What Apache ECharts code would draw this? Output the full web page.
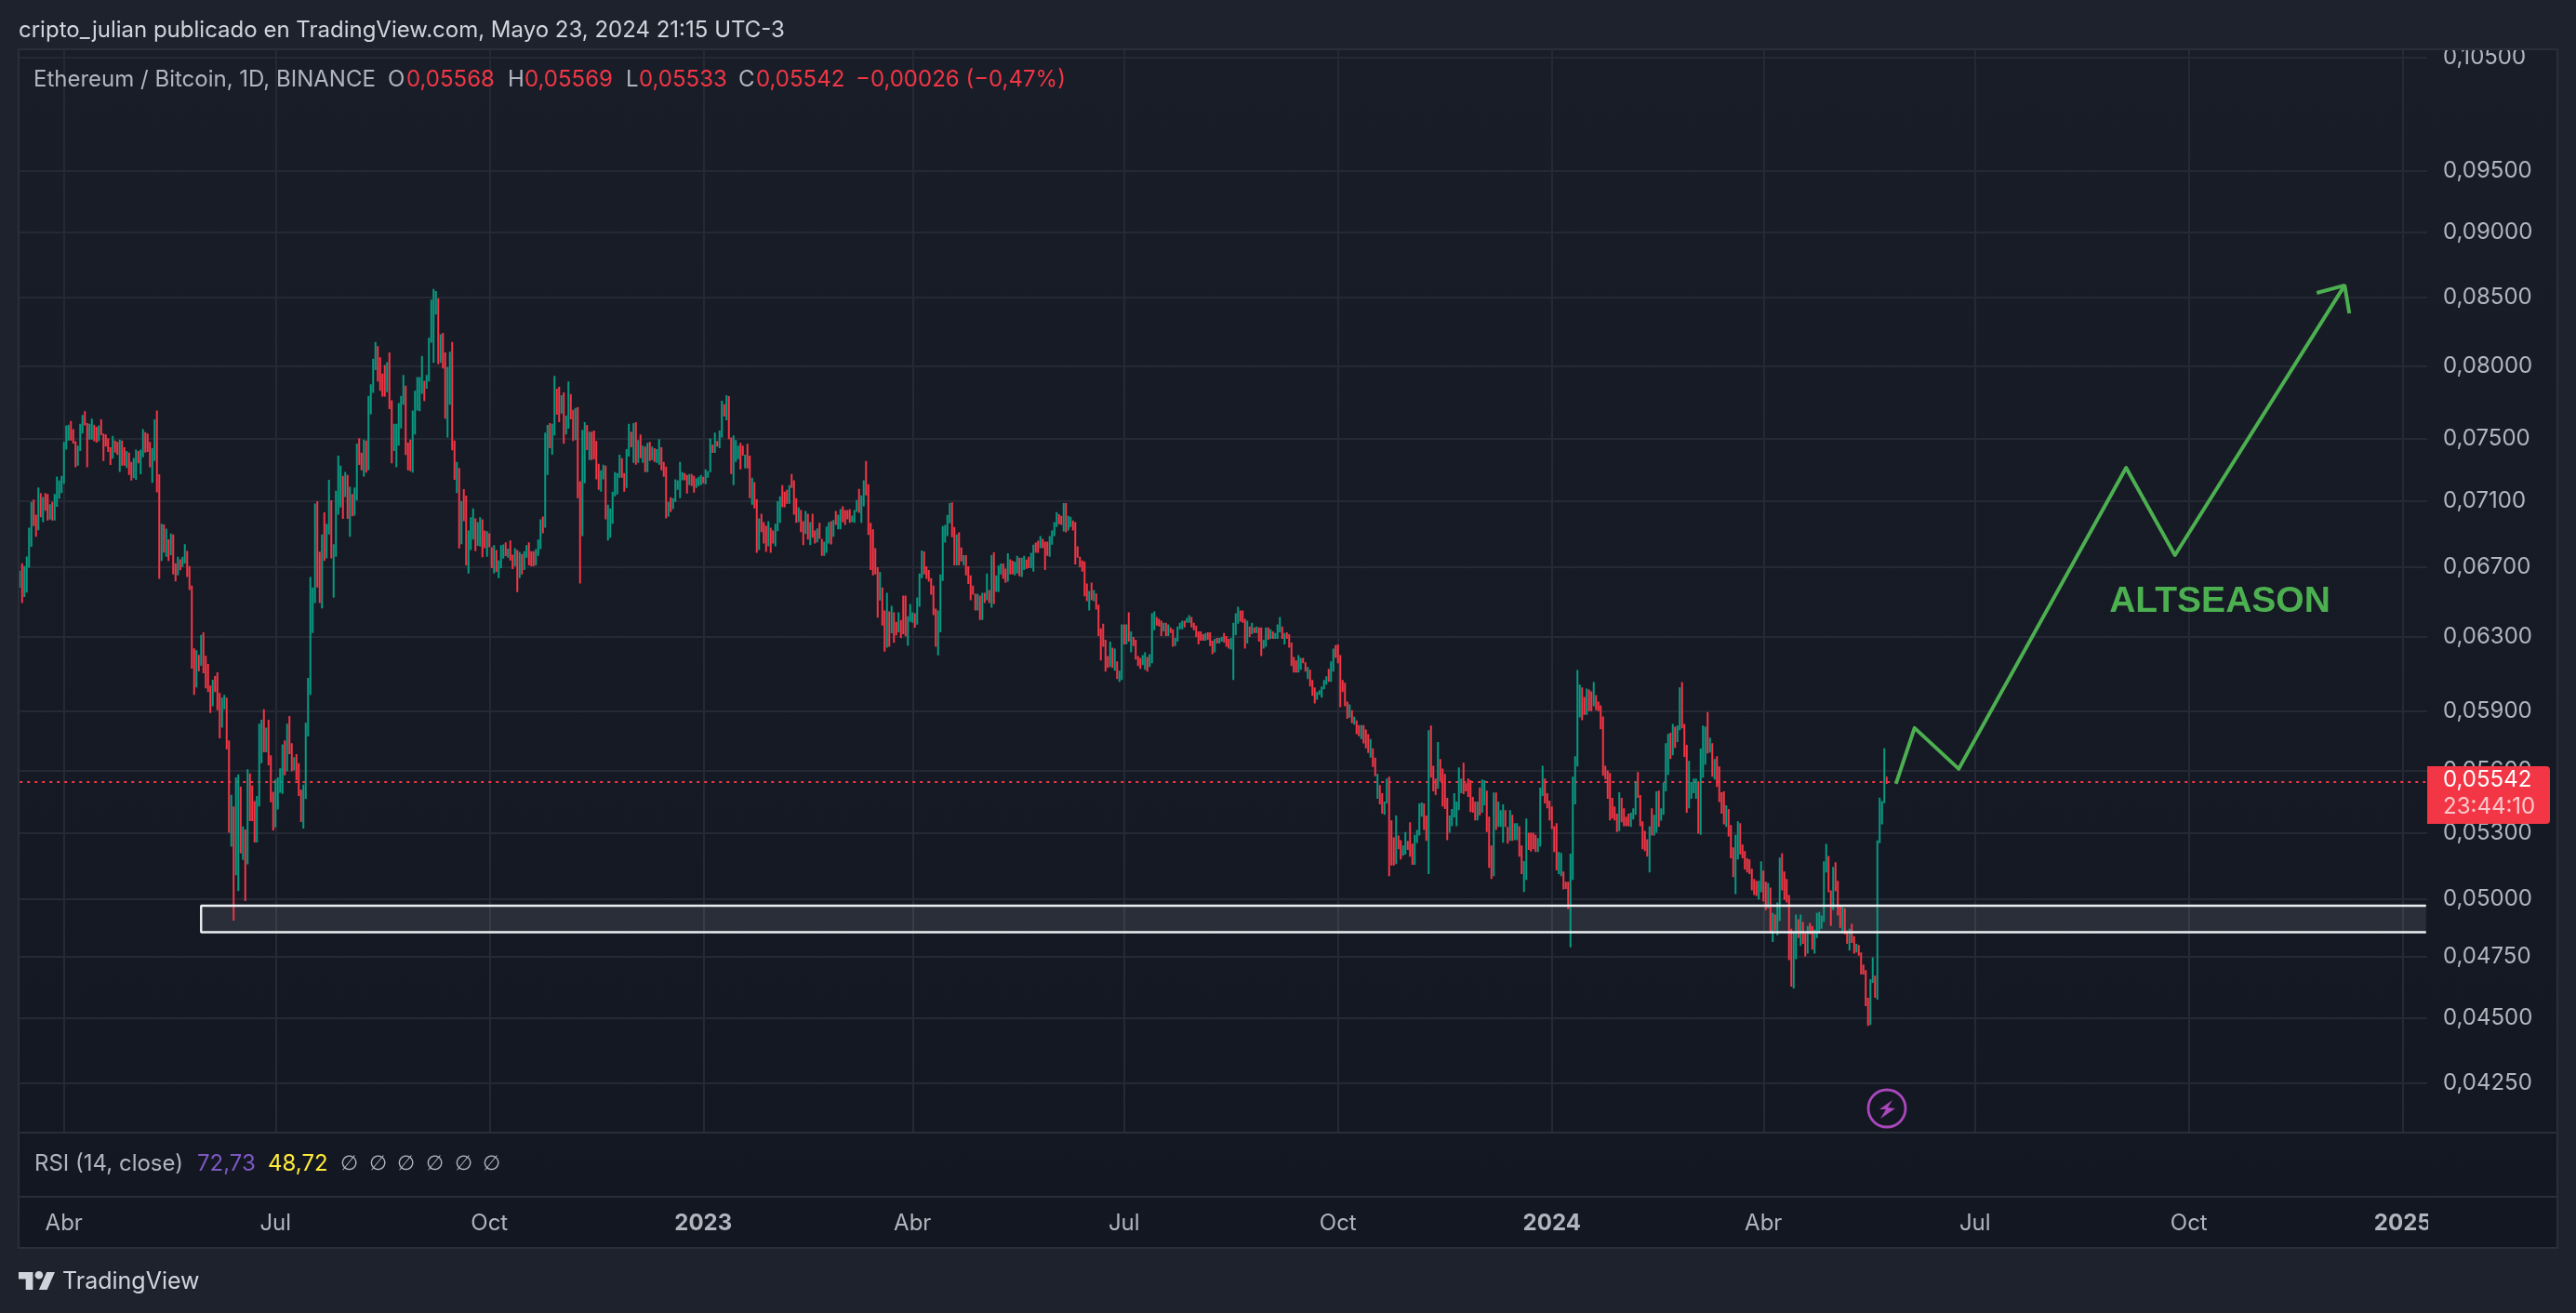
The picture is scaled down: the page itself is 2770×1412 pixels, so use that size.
<!doctype html>
<html><head><meta charset="utf-8">
<style>html,body{margin:0;background:#1e222d}#c{position:absolute;left:0;top:0;width:2770px;height:1412px}</style>
</head><body><div id="c"></div>
<script src="https://cdn.jsdelivr.net/npm/echarts@6/dist/echarts.min.js"></script>
<script>
// Rows: [open, close] or [open, close, high, low]; prices x 100000..
const rows2022a=[[6578,6678],[6722,6490],[6525,6705],[6550,6762],[6820,6935,6935,6695],[6820,7095],[7110,6945],[7015,6880],[6920,7185],[7150,7000],
[6970,7125],[7150,7040],[7145,6980],[6985,7080],[7095,6980],[6980,7145],[7065,7255],[7115,7230],[7150,7260],[7210,7480],
[7430,7590],[7490,7595],[7620,7490],[7565,7470],[7485,7315],[7325,7455],[7420,7600],[7535,7660],[7685,7590],[7605,7315],
[7495,7600],[7495,7635],[7595,7485],[7580,7475],[7485,7590],[7630,7525],[7535,7460,7535,7355],[7530,7450],[7505,7415],[7445,7330],
[7370,7520],[7490,7410],[7480,7395],[7285,7495],[7490,7325],[7445,7325],[7310,7420],[7410,7265],[7350,7230],[7245,7375],
[7235,7430],[7420,7340],[7270,7430],[7380,7565],[7545,7410],[7535,7415],[7480,7315],[7215,7440],[7355,7630],[7690,7155],
[7170,6960,7270,6630],[6735,6960],[6955,6785],[6760,6930],[6865,6735],[6770,6900],[6895,6655],[6722,6615],[6650,6760],[6745,6680],
[6700,6760],[6720,6835],[6795,6640],[6705,6565],[6590,6125],[6235,5985],[6025,6225],[6200,6110],[6140,6310],[6325,6100],
[6195,6020],[6150,6000],[6035,5890],[5925,6065],[6085,6000],[6105,5905],[5995,5760],[5815,5970],[5910,5985],[5970,5705],
[5750,5300],[5235,5480],[5420,4960,5425,4905],[5105,5565],[5035,5580],[5520,5205],[5175,5330],[5315,5170,5315,4990],[5155,5605],[5585,5355]];
const rows2022b=[[5525,5355],[5450,5255],[5255,5475],[5425,5835],[5635,5855],[5910,5690],[5690,5815],[5855,5625],[5675,5445],[5495,5310],
[5325,5555],[5410,5565],[5490,5610],[5485,5730],[5750,5575],[5595,5835],[5875,5680],[5735,5595],[5600,5665],[5680,5550],
[5635,5475],[5505,5350],[5320,5530],[5465,5530,5840,5460],[5800,6070,6075,5770],[6070,6300,6640,5985],[6490,6575,6580,6320],[6560,7080,7085,6490],[7100,6580],[6790,6490],
[6460,6895],[7030,6735],[6750,6960],[6895,7235],[7105,6750],[6520,6835],[6760,7165],[7015,7390],[7060,7325],[7260,6990],
[7125,7285],[7265,6990],[6880,7190],[7145,7005],[7010,7185],[7105,7470],[7505,7330],[7410,7295],[7255,7495],[7490,7280],
[7295,7790],[7665,7870],[7810,8050],[7970,8170],[8140,7890],[8060,7825],[7945,7785],[8005,7785],[7815,8025],[8095,7700],
[7760,7340],[7420,7600],[7315,7600],[7455,7740],[7570,7790],[7730,7935],[7860,7395],[7475,7295],[7495,7290],[7280,7690],
[7530,7825],[7690,7920],[7685,7920],[7805,8070],[7895,7755],[7840,7935],[7890,8200],[8165,8480],[8020,8560],[8370,8545],
[8490,8010],[8020,8225],[8235,7980],[8095,7940,8095,7635],[7510,7990],[7730,8100],[8170,7425],[7490,7235],[7150,7350],[7310,6970,7310,6810],
[6835,7100],[7175,6975]];
const rows2022c=[[7135,6709],[6661,6919],[6800,6999],[6863,7055],[6993,6794],[6825,6970],[6821,6999],[6987,6757],[6919,6812],[6760,6914],
[6902,6817],[6817,6693],[6661,6829],[6800,6671],[6634,6738],[6693,6829],[6749,6834],[6846,6764],[6755,6808],[6857,6738],
[6772,6687],[6704,6812],[6800,6553],[6634,6789],[6777,6655],[6682,6794],[6755,6829],[6846,6709],[6794,6704],[6794,6704],
[6709,6806],[6766,6863],[6806,6987],[7004,6902],[6945,7260,7542,6936],[7266,7593],[7605,7439],[7397,7600],[7523,7928],[7840,7662],
[7852,7612],[7669,7795],[7814,7468],[7530,7656],[7568,7890],[7802,7631],[7694,7486],[7492,7707],[7713,7118],[7225,7118,7225,6602],
[6885,7561],[7213,7612],[7593,7427],[7361,7548],[7548,7361],[7555,7367],[7486,7237],[7338,7171],[7159,7296],[7237,7332],
[7326,6987],[6857,7078],[6874,7055],[6959,7159],[7130,7284],[7141,7278],[7248,7397],[7373,7248],[7278,7159],[7183,7433],
[7385,7600],[7548,7445],[7344,7605],[7612,7332],[7344,7492],[7530,7373],[7344,7456],[7450,7284],[7284,7474],[7480,7355],
[7361,7450],[7439,7349],[7344,7433],[7332,7498],[7445,7296],[7349,7254],[7320,6993],[7004,7095],[7124,7033],[7050,7118],
[7095,7237],[7171,7231],[7118,7349],[7231,7284],[7278,7231],[7266,7147],[7201,7272],[7272,7195],[7260,7153],[7183,7243],
[7195,7254],[7201,7266],[7254,7213],[7207,7302],[7248,7290],[7284,7504],[7462,7409],[7409,7542],[7486,7450],[7439,7555],
[7510,7757],[7732,7650],[7624,7795],[7789,7498],[7510,7272],[7201,7523],[7349,7492],[7367,7456],[7474,7302],[7456,7391],
[7308,7397],[7468,7308],[7391,7118],[7078,7248],[7219,7055],[7112,6783],[6800,6993],[7021,6908],[6970,6840],[6948,6789],
[6823,6976],[6936,6783],[6919,6840],[6823,6959],[6914,7100],[6965,7130],[7201,7061],[7159,7061],[7171,7084],[7084,7201],
[7272,7183],[7231,7015],[7118,6965],[6970,7061],[7044,6908],[6976,6829],[6897,7038],[7021,6863],[6829,6970],[7021,6874],
[6919,6840],[6846,6931],[6965,6868],[6868,6766],[6766,6851],[6783,6942],[6840,6970],[6976,6834],[6880,6982],[7038,6953],
[6925,7015],[6925,7050],[7067,6970],[7044,6953],[7044,6987],[7050,6965],[6970,7010],[6965,7044],[7033,7106],[7177,7027],
[6965,7136],[7067,7231],[7355,7136],[7207,6891],[6965,6682],[6925,6650],[6812,6655],[6698,6407],[6504,6671],[6579,6362]];
const rows2023a=[[6447,6218],[6239,6549],[6442,6244],[6319,6474],[6437,6266],[6383,6308],[6324,6437],[6394,6292],[6533,6314],[6533,6303],
[6250,6415],[6383,6485],[6378,6437],[6431,6351],[6367,6522],[6469,6661],[6634,6798],[6792,6656],[6704,6629],[6682,6613],
[6634,6538],[6591,6421],[6458,6244],[6197,6447],[6324,6656],[6618,6946],[6845,6952],[6884,7014],[6963,7087],[7092,6878],
[6940,6709],[6709,6895],[6907,6709],[6816,6732],[6709,6770],[6770,6650],[6704,6600],[6650,6506],[6591,6538],[6543,6447],
[6447,6543],[6533,6394],[6394,6549],[6549,6490],[6506,6661],[6565,6490],[6463,6770],[6787,6485],[6554,6650],[6554,6707],
[6656,6720],[6720,6629],[6690,6607],[6613,6781],[6745,6656],[6737,6656],[6650,6731],[6661,6765],[6754,6645],[6640,6754]];
const rows2023b=[[6682,6766],[6743,6688],[6760,6693],[6693,6783],[6672,6833],[6845,6783],[6856,6783],[6811,6884],[6867,6811],[6850,6682],
[6850,6766],[6760,6884],[6833,6918],[6884,6969],[6940,7031],[7019,6957],[7008,6952],[6912,7087],[7087,6907],[6918,7008],
[6940,7002],[6980,6918],[6969,6715],[6822,6754],[6760,6698],[6738,6672],[6732,6528],[6602,6501],[6448,6560],[6608,6506],
[6501,6565],[6544,6453],[6480,6304],[6346,6169],[6373,6244],[6283,6109],[6194,6129],[6134,6273],[6239,6129],[6114,6234],
[6164,6069],[6054,6114],[6064,6368],[6368,6258],[6258,6368],[6437,6273],[6214,6330],[6298,6249],[6283,6174],[6194,6139],
[6184,6124],[6144,6199],[6119,6214],[6189,6109],[6134,6204],[6154,6432],[6336,6442],[6410,6362],[6400,6357],[6389,6304],
[6330,6378],[6378,6304],[6304,6368],[6352,6320],[6341,6244],[6249,6293],[6273,6357],[6341,6378],[6341,6389],[6389,6352],
[6378,6405],[6378,6421],[6410,6352],[6378,6336],[6362,6298],[6330,6258],[6330,6278],[6314,6278],[6278,6320],[6325,6283],
[6325,6249],[6278,6204],[6214,6288],[6293,6263],[6263,6293],[6273,6298],[6320,6268],[6304,6244],[6288,6234],[6229,6293],
[6064,6378],[6309,6432],[6373,6469],[6448,6384],[6448,6378],[6400,6234],[6263,6389],[6357,6298],[6314,6378],[6352,6320],
[6320,6357],[6352,6273],[6352,6194],[6234,6283],[6244,6352],[6352,6283],[6288,6341],[6330,6288],[6288,6320],[6288,6368],
[6325,6410],[6357,6288],[6258,6320],[6325,6288],[6314,6239],[6268,6139],[6189,6104],[6169,6104],[6104,6199],[6119,6184],
[6184,6154],[6159,6109],[6069,6134],[6119,6029],[6064,5980],[6024,5940],[5960,6000],[5985,6010],[5970,6029],[6015,6064],
[6039,6084],[6124,6054],[6054,6164],[6109,6234],[6254,6184],[6258,6154],[6199,5920],[6064,6000],[6049,5925],[5950,5860],
[5866,5935],[5905,5838],[5830,5871],[5852,5781],[5828,5771],[5757,5828],[5828,5734],[5805,5710],[5781,5686],[5663,5757],
[5710,5617],[5663,5571]];
const rows2024a=[[5461,5582],[5528,5434],[5488,5390],[5385,5448],[5439,5560],[5358,5173,5569,5101],[5358,5180,5358,5149],[5279,5149],[5156,5381],[5287,5224],
[5266,5177],[5194,5241],[5199,5304],[5262,5220],[5349,5190],[5249,5152],[5152,5291],[5253,5313],[5287,5439],[5376,5443],
[5439,5313],[5381,5262],[5500,5780,5802,5110],[5825,5564],[5623,5497],[5560,5479],[5510,5741],[5656,5546],[5609,5425],[5582,5412],
[5466,5266],[5300,5381],[5331,5412],[5372,5488],[5331,5448],[5407,5614],[5488,5560],[5638,5484],[5537,5497],[5560,5470],
[5551,5398],[5470,5394],[5448,5358],[5358,5448],[5515,5381],[5394,5555],[5430,5551],[5501,5304],[5376,5139],[5241,5089],
[5101,5492],[5492,5313],[5327,5448],[5327,5407],[5254,5434],[5407,5327],[5327,5249],[5262,5407],[5385,5262],[5266,5345],
[5266,5345],[5331,5190],[5241,5110],[5030,5169],[5084,5367],[5300,5220],[5300,5213],[5300,5224],[5291,5211],[5211,5275],
[5237,5515],[5475,5623],[5560,5439],[5488,5416],[5452,5358],[5425,5318],[5331,5211],[5345,5127],[5110,5211],[5101,5207],
[5122,5042],[5076,5044],[5076,4955],[5090,5203,5203,4791],[5084,5569],[5600,5670,5670,5434],[5619,6118],[5867,6039],[6024,5853],[5974,5881],
[5881,6019],[6014,5900],[6004,5900],[5925,6053],[5984,5905],[5950,5900],[5930,5806],[5872,5573],[5623,5555],[5600,5461],
[5587,5358],[5466,5367],[5425,5358],[5390,5304],[5308,5493],[5466,5349],[5416,5331],[5376,5331],[5390,5331],[5327,5394],
[5363,5416],[5385,5546],[5591,5466],[5479,5331],[5354,5224],[5309,5215],[5270,5190],[5118,5331],[5416,5287],[5287,5385],
[5300,5497],[5501,5327],[5357,5416],[5385,5540],[5497,5736],[5578,5783],[5788,5656],[5675,5834],[5820,5712],[5741,5825],
[5802,6024],[6053,5811],[5834,5666],[5727,5394],[5416,5647],[5461,5542],[5488,5560],[5461,5560],[5546,5296],[5291,5708],
[5564,5825],[5628,5820],[5895,5684],[5689,5764],[5736,5569],[5555,5656],[5670,5519],[5619,5446],[5493,5390],[5497,5340],
[5327,5430],[5412,5283],[5336,5182],[5232,5097],[5021,5291],[5177,5354],[5345,5199],[5245,5182],[5215,5131],[5182,5118],
[5177,5110]];
const rows2024b=[[5135,5038],[5089,5017],[5080,5013],[4997,5080],[5029,5168],[5126,4988],[5076,4951],[4959,5071],[5050,4850],[4814,4939],
[4931,4862],[4842,4984],[4903,5185],[5206,5038],[5122,4996],[5089,4984],[5017,4737],[4870,4628],[4620,4854],[4741,4931],
[4911,4830],[4797,4931],[4899,4806],[4850,4753],[4765,4882],[4895,4846],[4882,4781],[4765,4866],[4830,4939],[4850,4943],
[4870,4927],[4899,5168],[5118,5248],[5193,5029],[5038,4882],[4951,5143],[5164,5034],[5080,4927],[4972,4874],[4858,4964],
[4959,4846],[4862,4806],[4777,4870],[4891,4810],[4838,4765],[4769,4806],[4801,4756],[4769,4677],[4719,4677],[4696,4549],
[4583,4470],[4474,4658],[4643,4749],[4673,4583],[5111,5265,5265,4575],[5255,5460,5467,5252],[5340,5445,5450,5340],[5450,5568,5710,5440],[5568,5542,5569,5533]];

const priceTicks=[4250,4500,4750,5000,5300,5600,5900,6300,6700,7100,7500,8000,8500,9000,9500,10500];
const quarterIndex=[19,110,202,294,384,475,567,659,750,841,933,1025];
const quarterLabels=['Abr','Jul','Oct','2023','Abr','Jul','Oct','2024','Abr','Jul','Oct','2025'];
const projection=[[807,5534],[815,5813],[834,5607],[906,7312],[927,6770],[1000,8587]];
const arrowHead=[[988,8530],[1000,8587],[1002,8378]];
const zoneTop=4970, zoneBottom=4855, zoneStart=78, lastPrice=5542;
const SLOTS=1036;

const scale=v=>v/100000;
const rows=[...rows2022a,...rows2022b,...rows2022c,...rows2023a,...rows2023b,...rows2024a,...rows2024b];
const categories=[];
for(let i=0;i<SLOTS;i++){categories.push(new Date(Date.UTC(2022,2,13+i)).toISOString().slice(0,10));}
const candleData=rows.map(r=>{const o=r[0],c=r[1],h=r[2]??Math.max(o,c),l=r[3]??Math.min(o,c);return [scale(o),scale(c),scale(l),scale(h)];});
const qLabel={};quarterIndex.forEach((q,i)=>qLabel[q]=quarterLabels[i]);
const isQuarter=i=>qLabel[i]!==undefined;
const fmt=v=>v.toFixed(5).replace('.',',');
const FONT='Inter, "Noto Sans", sans-serif';
const GRID='#252934', FRAME='#2a2e39', OUTER='#1e222d';

const T=(text,x,y,o={})=>({type:'text',z:60,x,y,silent:true,style:Object.assign({text,fill:'#d1d4dc',font:'24px '+FONT,textVerticalAlign:'middle',textAlign:'left'},o)});
const R=(x,y,width,height,fill,z=50)=>({type:'rect',z,silent:true,shape:{x,y,width,height},style:{fill}});
const RED='#F23645';
const elements=[
 {type:'rect',z:-1,silent:true,shape:{x:20,y:53,width:2730,height:1289},style:{fill:new echarts.graphic.LinearGradient(0,0,0,1,[{offset:0,color:'#191d28'},{offset:1,color:'#131722'}])}},
 R(2610,0,150,53,OUTER), R(2611,1288,138,53,'#131722'),
 R(19,52,2732,2,FRAME,55),R(19,1341,2732,2,FRAME,55),R(19,52,2,1291,FRAME,55),R(2749,52,2,1291,FRAME,55),
 R(20,1217,2730,2,FRAME,55),R(20,1286,2730,2,FRAME,55),
 {type:'rect',z:56,silent:true,shape:{x:2610,y:824,width:132,height:62,r:[0,4,4,0]},style:{fill:RED}},
 T('0,05542',2627,839,{fill:'#ffffff'}),
 T('23:44:10',2627,868,{fill:'rgba(255,255,255,0.72)'}),
 T('cripto_julian publicado en TradingView.com, Mayo 23, 2024 21:15 UTC-3',20,33),
 T('Ethereum / Bitcoin, 1D, BINANCE',36,86,{fill:'#b2b5be'}),
 T('O',417,86,{fill:'#b2b5be'}),T('0,05568',437,86,{fill:RED}),
 T('H',546,86,{fill:'#b2b5be'}),T('0,05569',564,86,{fill:RED}),
 T('L',673,86,{fill:'#b2b5be'}),T('0,05533',687,86,{fill:RED}),
 T('C',794,86,{fill:'#b2b5be'}),T('0,05542',813,86,{fill:RED}),
 T('\u22120,00026 (\u22120,47%)',920,86,{fill:RED}),
 T('RSI (14, close)',37,1252,{fill:'#b2b5be'}),
 T('72,73',212,1252,{fill:'#7E57C2'}),T('48,72',288,1252,{fill:'#FFEB3B'}),
 ...[366,397,427,458,489,519].map(x=>T('\u2205',x,1252,{fill:'#b2b5be',font:'22px "DejaVu Sans"'})),
 T('ALTSEASON',2387,647,{fill:'#4CAF50',font:'bold 39px "Liberation Sans"',textAlign:'center'}),
 {type:'circle',z:60,silent:true,shape:{cx:2029,cy:1192,r:20},style:{fill:'none',stroke:'#ab47bc',lineWidth:2.8}},
 {type:'polygon',z:60,silent:true,shape:{points:[[2035,1183],[2021,1193],[2028,1193],[2022,1203],[2038,1192],[2030,1191]]},style:{fill:'#ab47bc'}},
 {type:'polygon',z:60,silent:true,shape:{points:[[35.4,1387],[27.7,1387],[27.7,1375.4],[20,1375.4],[20,1368],[35.4,1368]]},style:{fill:'#d1d4dc'}},
 {type:'polygon',z:60,silent:true,shape:{points:[[50.7,1387],[41.9,1387],[50.2,1368],[59,1368]]},style:{fill:'#d1d4dc'}},
 {type:'circle',z:60,silent:true,shape:{cx:41.9,cy:1371.2,r:4.3},style:{fill:'#d1d4dc'}},
 T('TradingView',67,1378,{font:'25px '+FONT}),
];

const chart=echarts.init(document.getElementById('c'),null,{renderer:'canvas'});
chart.setOption({
 animation:false,
 backgroundColor:OUTER,
 grid:{left:20,right:160,top:53,height:1165,containLabel:false},
 tooltip:{show:false},
 xAxis:{type:'category',data:categories,boundaryGap:true,
  axisLine:{show:false},axisTick:{show:false},
  splitLine:{show:true,alignWithLabel:true,interval:i=>isQuarter(i),lineStyle:{color:GRID,width:2}},
  axisLabel:{interval:i=>isQuarter(i),hideOverlap:false,margin:86,color:'#b2b5be',fontFamily:FONT,fontSize:24,
   formatter:(v,i)=>{const s=qLabel[i]||'';return /^\d/.test(s)?'{y|'+s+'}':s;},
   rich:{y:{fontWeight:'bold',fontFamily:FONT,fontSize:24,color:'#b2b5be'}}}},
 yAxis:{type:'log',logBase:10,position:'right',min:0.04069,max:0.10574,
  axisLine:{show:false},
  axisTick:{show:false,customValues:priceTicks.map(scale)},
  splitLine:{show:true,lineStyle:{color:GRID,width:2}},
  axisLabel:{customValues:priceTicks.map(scale),margin:17,color:'#b2b5be',fontFamily:FONT,fontSize:24,formatter:fmt}},
 series:[
  {type:'line',name:'last price',z:2,symbol:'none',silent:true,lineStyle:{color:RED,type:[3,5],width:2},
   data:[[0,scale(lastPrice)],[SLOTS-1,scale(lastPrice)]]},
  {type:'candlestick',name:'ETHBTC',data:candleData,barWidth:0.5,z:3,
   itemStyle:{color:'#089981',color0:RED,borderColor:'#089981',borderColor0:RED,borderWidth:2}},
  {type:'line',name:'zone',z:5,symbol:'none',silent:true,lineStyle:{color:'#eceff2',width:2.4},
   data:[[SLOTS-1,scale(zoneTop)],[zoneStart,scale(zoneTop)],[zoneStart,scale(zoneBottom)],[SLOTS-1,scale(zoneBottom)]],
   markArea:{silent:true,itemStyle:{color:'rgba(209,212,220,0.115)'},
    data:[[{xAxis:categories[zoneStart],yAxis:scale(zoneTop)},{xAxis:categories[SLOTS-1],yAxis:scale(zoneBottom)}]]}},
  {type:'line',name:'projection',z:6,symbol:'none',silent:true,lineStyle:{color:'#4CAF50',width:4,join:'round'},
   data:projection.map(p=>[p[0],scale(p[1])])},
  {type:'line',name:'arrow',z:6,symbol:'none',silent:true,lineStyle:{color:'#4CAF50',width:4},
   data:arrowHead.map(p=>[p[0],scale(p[1])])}
 ],
 graphic:{elements}
});
</script></body></html>
